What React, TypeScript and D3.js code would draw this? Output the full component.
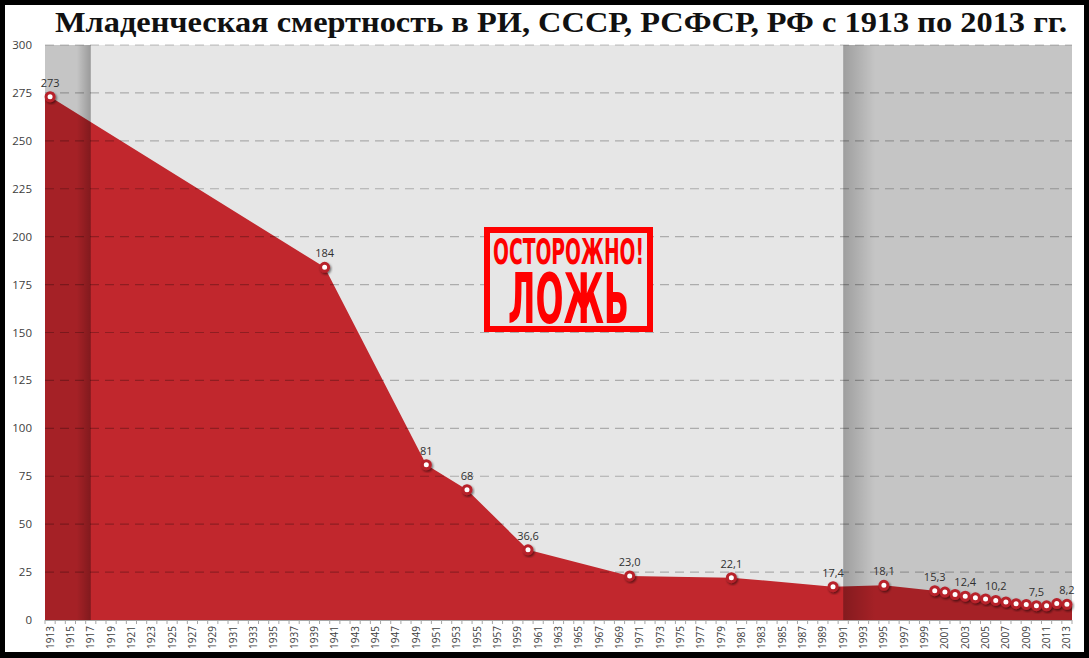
import React from 'react';
import * as d3 from 'd3';

// данные: год -> младенческая смертность (на 1000 родившихся)
const years = [1913, 1940, 1950, 1954, 1960, 1970, 1980, 1990, 1995,
	2000, 2001, 2002, 2003, 2004, 2005, 2006, 2007, 2008, 2009, 2010, 2011, 2012, 2013];
const values = [273, 184, 81, 68, 36.6, 23.0, 22.1, 17.4, 18.1,
	15.3, 14.6, 13.3, 12.4, 11.6, 11.0, 10.2, 9.4, 8.5, 8.1, 7.5, 7.4, 8.6, 8.2];
const labels = ['273', '184', '81', '68', '36,6', '23,0', '22,1', '17,4', '18,1',
	'15,3', '', '', '12,4', '', '', '10,2', '', '', '', '7,5', '', '', '8,2'];

const yTicks = [0, 25, 50, 75, 100, 125, 150, 175, 200, 225, 250, 275, 300];
const allYears = d3.range(1913, 2014);
const xLabelYears = allYears.filter((y) => (y - 1913) % 2 === 0);

// периоды: РИ, СССР, РФ
const periods = [
	{ from: 1913, to: 1917, dark: true },
	{ from: 1917, to: 1991, dark: false },
	{ from: 1991, to: 2013, dark: true },
];

const title = 'Младенческая смертность в РИ, СССР, РСФСР, РФ с 1913 по 2013 гг.';

export default function App() {
	const W = 1089;
	const H = 658;
	const m = { left: 45, right: 1072, top: 45, bottom: 620 };

	const x = d3.scaleBand<number>()
		.domain(allYears)
		.range([m.left, m.right])
		.paddingInner(0)
		.paddingOuter(0);
	const bw = x.bandwidth();
	const cx = (yr: number) => (x(yr) as number) + bw / 2;
	// границы периодов: от левого края графика / центра года
	const edge = (yr: number) => yr === 1913 ? m.left : yr === 2013 ? m.right : cx(yr);

	const y = d3.scaleLinear().domain([0, 300]).range([m.bottom, m.top]);

	const pts: [number, number][] = years.map((yr, i) => [cx(yr), y(values[i])]);
	const areaPts: [number, number][] = [[x.range()[0], y(values[0])], ...pts, [x.range()[1], y(values[values.length - 1])]];
	const area = d3.area<[number, number]>()
		.x((d) => d[0])
		.y0(y(0))
		.y1((d) => d[1])(areaPts) as string;

	const labelFont = "'Open Sans', 'DejaVu Sans', sans-serif";
	const stampFont = "'DejaVu Sans Condensed', 'DejaVu Sans', sans-serif";

	return (
		<svg width={W} height={H} style={{ position: 'absolute', left: 0, top: 0, display: 'block' }}>
			<defs>
				<linearGradient id="shL" x1="0" x2="1" y1="0" y2="0">
					<stop offset="0" stopColor="#000" stopOpacity="0" />
					<stop offset="1" stopColor="#000" stopOpacity="0.22" />
				</linearGradient>
				<linearGradient id="shR" x1="0" x2="1" y1="0" y2="0">
					<stop offset="0" stopColor="#000" stopOpacity="0.2" />
					<stop offset="1" stopColor="#000" stopOpacity="0" />
				</linearGradient>
				<filter id="ds" x="-50%" y="-50%" width="200%" height="200%">
					<feDropShadow dx="1.2" dy="1.5" stdDeviation="1" floodColor="#000" floodOpacity="0.55" />
				</filter>
			</defs>

			<rect x={0} y={0} width={W} height={H} fill="#000" />
			<rect x={5} y={5} width={1079} height={647} fill="#fff" />

			<text x={561} y={32} textAnchor="middle" fontFamily="'Liberation Serif', 'DejaVu Serif', serif"
				fontWeight="bold" fontSize={30} fill="#111" textLength={1012} lengthAdjust="spacingAndGlyphs">{title}</text>

			{/* фон графика */}
			<rect x={m.left} y={m.top} width={m.right - m.left} height={m.bottom - m.top} fill="#e6e6e6" />

			{/* площадь */}
			<path d={area} fill="#c1272d" />

			{/* затемнение периодов */}
			{periods.filter((p) => p.dark).map((p, i) => {
				const x0 = edge(p.from);
				const x1 = edge(p.to);
				return <rect key={i} x={x0} y={m.top} width={x1 - x0} height={m.bottom - m.top} fill="#000" opacity={0.14} />;
			})}
			<rect x={edge(1917) - 14} y={m.top} width={14} height={m.bottom - m.top} fill="url(#shL)" />
			<rect x={edge(1991)} y={m.top} width={32} height={m.bottom - m.top} fill="url(#shR)" />

			{/* сетка */}
			{yTicks.filter((t) => t > 0).map((t) => (
				<line key={t} x1={m.left} x2={m.right} y1={y(t)} y2={y(t)} stroke="#000" strokeOpacity={0.25}
					strokeWidth={1.2} strokeDasharray="9,6" />
			))}

			{/* ось Y */}
			{yTicks.map((t) => (
				<text key={t} x={32} y={y(t)} dy="0.35em" textAnchor="end" fontFamily={labelFont} fontSize={11.5} fill="#404040">{t}</text>
			))}

			{/* ось X */}
			<line x1={m.left} x2={m.right} y1={m.bottom + 0.5} y2={m.bottom + 0.5} stroke="#a6a6a6" />
			{allYears.concat([2014]).map((yr) => {
				const xx = yr === 2014 ? m.right : (x(yr) as number);
				return <line key={yr} x1={xx} x2={xx} y1={m.bottom} y2={m.bottom + 4} stroke="#a6a6a6" />;
			})}
			{xLabelYears.map((yr) => (
				<text key={yr} transform={`translate(${cx(yr)},${m.bottom + 6}) rotate(-90)`} textAnchor="end" dy="0.35em"
					fontFamily={labelFont} fontSize={10} fill="#404040">{yr}</text>
			))}

			{/* маркеры */}
			{pts.map((p, i) => (
				<circle key={i} cx={p[0]} cy={p[1]} r={4} fill="#fff" stroke="#b8212b" strokeWidth={3} filter="url(#ds)" />
			))}
			{pts.map((p, i) => labels[i] ? (
				<text key={i} x={p[0]} y={p[1] - 10} textAnchor="middle" fontFamily={labelFont} fontSize={11} fill="#303030">{labels[i]}</text>
			) : null)}

			{/* штамп */}
			<g>
				<rect x={487} y={230} width={163} height={99} fill="#e6e6e6" stroke="#ff0000" strokeWidth={6} />
				<text x={493} y={264} fontFamily={stampFont} fontWeight="bold"
					fontSize={36} fill="#ff0000" textLength={151} lengthAdjust="spacingAndGlyphs">ОСТОРОЖНО!</text>
				<text x={508} y={323} fontFamily={stampFont} fontWeight="bold"
					fontSize={70} fill="#ff0000" textLength={121} lengthAdjust="spacingAndGlyphs">ЛОЖЬ</text>
			</g>
		</svg>
	);
}
